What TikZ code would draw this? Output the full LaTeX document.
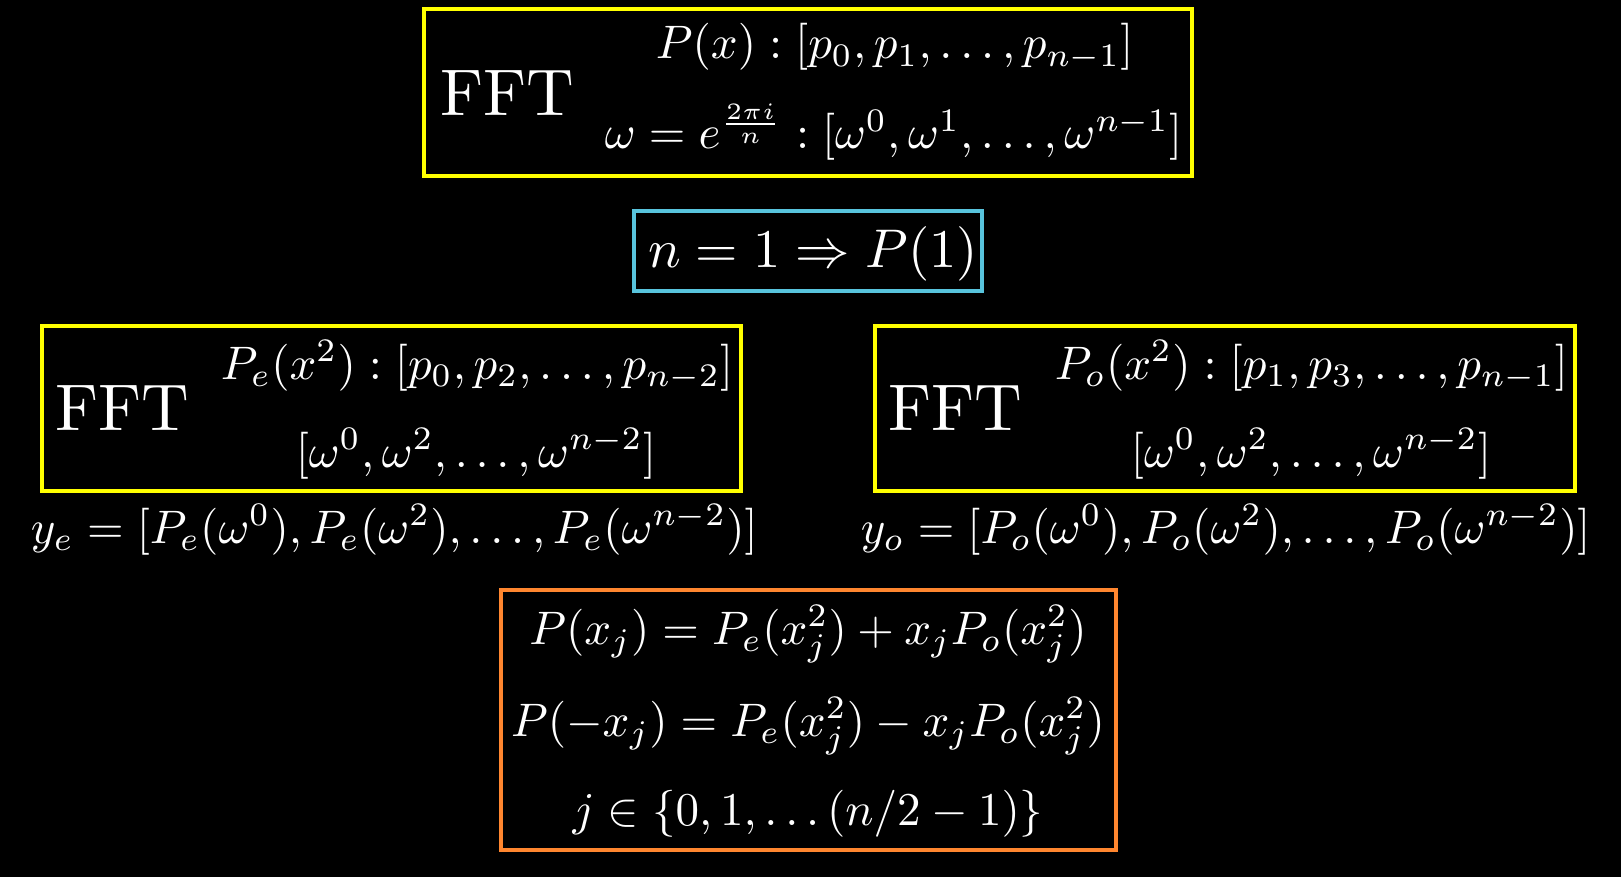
\documentclass[tikz,border=0pt]{standalone}
\definecolor{myyellow}{HTML}{FFFF00}
\definecolor{myblue}{HTML}{58C4DD}
\definecolor{myorange}{HTML}{FF862F}
\tikzset{
  mtext/.style={text=white, inner sep=0pt, font=\fontsize{10}{12}\selectfont, scale=4.7},
  bigtext/.style={text=white, inner sep=0pt, font=\fontsize{10}{12}\selectfont, scale=6.6},
  ntext/.style={text=white, inner sep=0pt, font=\fontsize{10}{12}\selectfont, scale=5.45},
}
\begin{document}
\begin{tikzpicture}[x=1pt,y=-1pt]
\fill[black] (0,0) rectangle (1621,877);
% boxes
\draw[myyellow, line width=4pt] (424,9) rectangle (1192,176);
\draw[myblue, line width=4pt] (634,211) rectangle (982,291);
\draw[myyellow, line width=4pt] (42,326) rectangle (741,491);
\draw[myyellow, line width=4pt] (875,326) rectangle (1575,491);
\draw[myorange, line width=4pt] (501,590) rectangle (1116,850);
% top
\node[bigtext, anchor=base west] (fft1) at (439,116) {FFT};
\node[mtext, anchor=base west] (px) at (655,59) {$P(x) : [p_0, p_1, \ldots, p_{n-1}]$};
\node[mtext, anchor=base west] (om) at (604,149) {$\omega = e^{\frac{2\pi i}{n}} : [\omega^0, \omega^1, \ldots, \omega^{n-1}]$};
% cyan
\node[ntext, anchor=base west] (n1) at (647,267) {$n = 1 \Rightarrow P(1)$};
% left
\node[bigtext, anchor=base west] (fft2) at (54,430) {FFT};
\node[mtext, anchor=base west] (pe) at (220,379) {$P_e(x^2) : [p_0, p_2, \ldots, p_{n-2}]$};
\node[mtext, anchor=base west] (we) at (295,467) {$[\omega^0, \omega^2, \ldots, \omega^{n-2}]$};
\node[mtext, anchor=base west] (ye) at (30,543) {$y_e = [P_e(\omega^0), P_e(\omega^2), \ldots, P_e(\omega^{n-2})]$};
% right
\node[bigtext, anchor=base west] (fft3) at (887,430) {FFT};
\node[mtext, anchor=base west] (po) at (1054,379) {$P_o(x^2) : [p_1, p_3, \ldots, p_{n-1}]$};
\node[mtext, anchor=base west] (wo) at (1130,467) {$[\omega^0, \omega^2, \ldots, \omega^{n-2}]$};
\node[mtext, anchor=base west] (yo) at (860,543) {$y_o = [P_o(\omega^0), P_o(\omega^2), \ldots, P_o(\omega^{n-2})]$};
% orange
\node[mtext, anchor=base] (l1) at (808,644) {$P(x_j) = P_e(x_j^2) + x_j P_o(x_j^2)$};
\node[mtext, anchor=base] (l2) at (808,736) {$P(-x_j) = P_e(x_j^2) - x_j P_o(x_j^2)$};
\node[mtext, anchor=base] (l3) at (808,825) {$j \in \{0, 1, \ldots (n/2 - 1)\}$};
\end{tikzpicture}
\end{document}
